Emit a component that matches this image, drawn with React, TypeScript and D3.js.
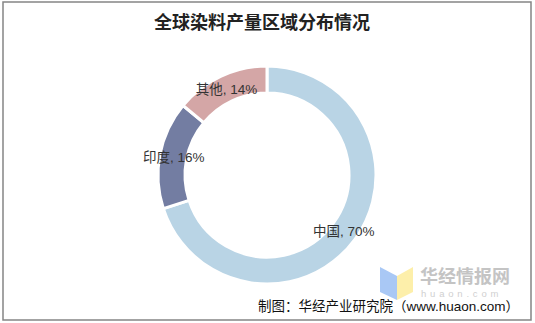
import { useEffect, useRef } from 'react'
import * as d3 from 'd3'

const regions = ['中国', '印度', '其他']
const shares = [70, 16, 14]
const colors = ['#b9d4e5', '#737da2', '#d4a6a6']

const W = 535
const H = 323

export default function App() {
  const ref = useRef<SVGSVGElement | null>(null)

  useEffect(() => {
    const el = ref.current
    if (!el) return
    const svg = d3.select(el)
    svg.selectAll('*').remove()

    svg.append('rect')
      .attr('x', 3).attr('y', 2).attr('width', 528).attr('height', 318)
      .attr('fill', '#fff').attr('stroke', '#858585').attr('stroke-width', 1.5)

    svg.append('text')
      .attr('x', 262).attr('y', 29)
      .attr('text-anchor', 'middle')
      .attr('font-family', '"Noto Sans CJK SC", serif')
      .attr('font-weight', 'bold')
      .attr('font-size', 18)
      .attr('fill', '#222')
      .text('全球染料产量区域分布情况')

    const cx = 267, cy = 175
    const outer = 109, inner = 82
    const data = regions.map((r, i) => ({ region: r, value: shares[i], color: colors[i] }))
    const pie = d3.pie<typeof data[number]>().value(d => d.value).sort(null)
    const arc = d3.arc<d3.PieArcDatum<typeof data[number]>>().innerRadius(inner).outerRadius(outer)
    const labelArc = d3.arc<d3.PieArcDatum<typeof data[number]>>().innerRadius(95).outerRadius(95)

    const g = svg.append('g').attr('transform', `translate(${cx},${cy})`)
    const arcs = pie(data)
    g.selectAll('path.slice').data(arcs).join('path')
      .attr('class', 'slice')
      .attr('d', arc)
      .attr('fill', d => d.data.color)
      .attr('stroke', '#fff')
      .attr('stroke-width', 3)

    g.selectAll('text.lbl').data(arcs).join('text')
      .attr('class', 'lbl')
      .attr('transform', d => {
        const [x, y] = labelArc.centroid(d)
        return `translate(${x},${y})`
      })
      .attr('text-anchor', 'middle')
      .attr('dy', '0.35em')
      .attr('font-family', '"Liberation Sans", "Noto Sans CJK SC", sans-serif')
      .attr('font-size', 13.5)
      .attr('fill', '#333')
      .text(d => `${d.data.region}, ${d.data.value}%`)

    // watermark
    const wm = svg.append('g')
    wm.append('path').attr('d', 'M380,267 L397,276 L397,300 L380,292 Z').attr('fill', '#a9c8f5')
    wm.append('path').attr('d', 'M397,276 L413,267 L413,292 L397,300 Z').attr('fill', '#fdefaa')
    wm.append('text')
      .attr('x', 420).attr('y', 283)
      .attr('font-family', '"Noto Sans CJK SC", sans-serif')
      .attr('font-weight', 'bold')
      .attr('font-size', 18)
      .attr('fill', '#c4c4c4')
      .text('华经情报网')
    wm.append('text')
      .attr('x', 421).attr('y', 297)
      .attr('font-family', '"Liberation Sans", sans-serif')
      .attr('font-size', 9.5)
      .attr('letter-spacing', 3.8)
      .attr('fill', '#d0d0d0')
      .text('huaon.com')

    svg.append('text')
      .attr('x', 519).attr('y', 311)
      .attr('text-anchor', 'end')
      .attr('font-family', '"Liberation Sans", "Noto Sans CJK SC", sans-serif')
      .attr('font-size', 13.5)
      .attr('fill', '#111')
      .text('制图：华经产业研究院（www.huaon.com）')
  }, [])

  return (
    <svg ref={ref} width={W} height={H}
      style={{ position: 'absolute', left: 0, top: 0, display: 'block' }} />
  )
}
